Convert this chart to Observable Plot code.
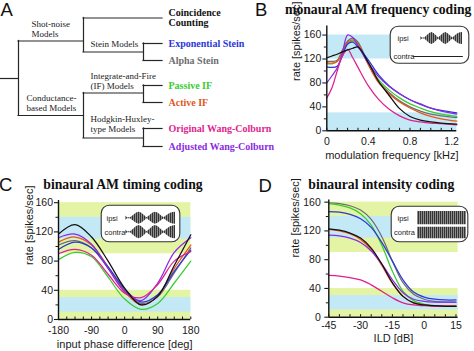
<!DOCTYPE html>
<html><head><meta charset="utf-8">
<script src="https://cdn.jsdelivr.net/npm/d3@7"></script>
<script src="https://cdn.jsdelivr.net/npm/@observablehq/plot@0.6"></script>
<style>
html,body{margin:0;padding:0;background:#fff}
#fig{position:relative;width:474px;height:351px;overflow:hidden;background:#fff}
#fig svg{position:absolute;overflow:visible;background:transparent}
.lab{position:absolute;white-space:nowrap;line-height:1;color:#111}
.letter{font:18.5px "Liberation Sans",Arial,sans-serif}
.ttl{font:bold 13.7px "Liberation Serif","Times New Roman",serif}
</style></head><body><div id="fig"></div>
<script>
// ---------- series ----------
const seriesNames = ["Coincidence Counting","Exponential Stein","Alpha Stein","Passive IF","Active IF","Original Wang-Colburn","Adjusted Wang-Colburn"];
const seriesColors = ["#111111","#2b38d9","#6e6e6e","#38cc30","#e5561d","#e01f8e","#8a2be2"];
const drawOrder = [2,3,4,1,6,5,0];

// ---------- panel A tree ----------
const treeIds     = ["root","shot","cond","cc","stein","es","as","if","pif","aif","hh","owc","awc"];
const treeParents = [null,"root","root","shot","shot","stein","stein","cond","if","if","cond","hh","hh"];
const treeX       = [18, 83, 83, 162, 143, 162, 162, 143, 162, 162, 143, 162, 162];
const treeY       = [78, 40.5, 115, 17.5, 51.5, 43, 60, 92.5, 85, 102, 137.5, 128, 146];
const treeStemX   = 0;
const groupLabels = ["Shot-noise\nModels","Stein Models","Integrate-and-Fire\n(IF) Models","Conductance-\nbased Models","Hodgkin-Huxley-\ntype Models"];
const groupLabelX = [31, 90, 90, 26, 90];
const groupLabelY = [36, 46.5, 88, 110.5, 131];
const leafIds     = ["cc","es","as","pif","aif","owc","awc"];
const leafLabels  = ["Coincidence\nCounting","Exponential Stein","Alpha Stein","Passive IF","Active IF","Original Wang-Colburn","Adjusted Wang-Colburn"];

// ---------- panel B: monaural AM frequency coding ----------
const bFreq = [0,0.05,0.1,0.15,0.2,0.25,0.3,0.4,0.5,0.6,0.7,0.8,0.9,1.0,1.1,1.25];
const bRates = [
  [122,125,128,132,135,138,140,114,82,59,37,24,18,15,13,11],
  [107,106,108,125,145,148,140,118,93,75,62,52,44,38,34,30],
  [116,116,118,135,150,155,148,112,82,64,50,40,33,28,25,22],
  [112,112,116,130,145,150,143,112,85,68,55,45,38,32,28,24],
  [114,113,116,132,148,152,145,110,80,62,48,38,30,24,20,16],
  [55,72,100,125,136,122,106,75,52,36,25,18,15,13,12,10],
  [80,92,105,130,160,156,142,113,90,74,62,52,45,38,33,28]
];
const bXTicks = [0,0.4,0.8,1.2];
const bXMinor = [0,0.1,0.2,0.3,0.4,0.5,0.6,0.7,0.8,0.9,1.0,1.1,1.2];
const bBandLo = [0,120], bBandHi = [30,160], bBandKind = ["blue","blue"];

// ---------- panel C: binaural AM timing coding ----------
const cPhase = [-180,-135,-90,-45,0,45,90,135,180];
const cRates = [
  [117,130,113,80,43,20,32,74,116],
  [96,106,98,72,42,24,34,66,95],
  [102,108,98,70,40,22,31,64,98],
  [82,92,86,58,28,14,22,50,80],
  [106,113,102,72,38,20,32,70,102],
  [90,96,88,62,36,30,48,80,93],
  [112,117,103,70,38,26,50,92,112]
];
const cXTicks = [-180,-90,0,90,180];
const cXMinor = [-180,-157.5,-135,-112.5,-90,-67.5,-45,-22.5,0,22.5,45,67.5,90,112.5,135,157.5,180];

// ---------- panel D: binaural intensity coding ----------
const dILD = [-45,-40,-35,-30,-25,-20,-15,-10,-5,0,5,10,15];
const dRates = [
  [123,121,117,110,96,74,48,29,20,17,16,15,15],
  [147,146,143,137,125,104,78,52,35,28,25,24,24],
  [159,158,155,149,136,112,78,48,32,25,22,21,21],
  [158,156,152,144,128,100,64,36,23,18,16,16,16],
  [122,120,116,108,94,72,47,29,20,17,16,16,16],
  [58,57,55,52,45,36,27,20,17,16,15,15,15],
  [114,113,110,104,92,74,52,34,25,22,21,21,21]
];
const dXTicks = [-45,-30,-15,0,15];
const dXMinor = [-45,-40,-35,-30,-25,-20,-15,-10,-5,0,5,10,15];
const cdBandLo = [90,110,0,10], cdBandHi = [160,140,40,30], cdBandKind = ["green","blue","green","blue"];

const yTicks = [0,40,80,120,160];
const yMinor = [20,60,100,140];
const bandColor = {blue: "#c3e9f6", green: "#e3f4a4"};

// inset stimulus envelopes (normalised)
const waveT   = [0,0.04,0.1,0.16,0.22,0.27,0.32,0.38,0.43,0.49,0.55,0.6,0.65,0.71,0.77,0.83,0.89,0.95,1.0,1.0];
const waveEnv = [0.35,0.08,0.08,0.45,0.85,1,0.85,0.45,0.08,0.45,0.85,1,0.85,0.45,0.08,0.45,0.8,0.95,1,0];
const toneT   = [0,0,1,1];
const toneEnv = [0,1,1,0];

// ---------- helpers ----------
const fig = document.getElementById("fig");
const SANS = "Liberation Sans, Arial, Helvetica, sans-serif";
const SERIF = "Liberation Serif, Times New Roman, serif";
const NS = "http://www.w3.org/2000/svg";
function place(svg, left, top) { svg.style.left = left + "px"; svg.style.top = top + "px"; fig.appendChild(svg); }
function label(cls, text, left, top) {
  const d = document.createElement("div"); d.className = "lab " + cls; d.textContent = text;
  d.style.left = left + "px"; d.style.top = top + "px"; fig.appendChild(d);
}
function el(name, attrs) {
  const e = document.createElementNS(NS, name);
  for (const k in attrs) e.setAttribute(k, attrs[k]);
  return e;
}

// ---------- Panel A ----------
{
  const pos = new Map(treeIds.map((id, i) => [id, {x: treeX[i], y: treeY[i]}]));
  const hSegs = treeIds.map((id, i) => ({x1: treeParents[i] ? pos.get(treeParents[i]).x : treeStemX, x2: treeX[i], y: treeY[i]}));
  const vSegs = [];
  for (const id of treeIds) {
    const kids = treeIds.filter((k, i) => treeParents[i] === id);
    if (!kids.length) continue;
    const ys = kids.map(k => pos.get(k).y).concat([pos.get(id).y]);
    vSegs.push({x: pos.get(id).x, y1: d3.min(ys), y2: d3.max(ys)});
  }
  const groups = groupLabels.map((t, i) => ({t, x: groupLabelX[i], y: groupLabelY[i]}));
  const leaves = leafIds.map((id, i) => ({t: leafLabels[i], x: pos.get(id).x, y: pos.get(id).y, c: seriesColors[i]}));
  const svg = Plot.plot({
    width: 280, height: 160, margin: 0,
    x: {domain: [0, 280], range: [0, 280], axis: null},
    y: {domain: [0, 160], range: [0, 160], axis: null},
    color: {type: "identity"},
    style: {fontFamily: SERIF, background: "transparent"},
    marks: [
      Plot.ruleY(hSegs, {y: "y", x1: "x1", x2: "x2", stroke: "#262626", strokeWidth: 1.2, strokeLinecap: "square"}),
      Plot.ruleX(vSegs, {x: "x", y1: "y1", y2: "y2", stroke: "#262626", strokeWidth: 1.2, strokeLinecap: "square"}),
      Plot.text(groups, {x: "x", y: "y", text: "t", textAnchor: "start", lineAnchor: "bottom", lineHeight: 1.1, fontSize: 9, fill: "#222", fontFamily: SERIF}),
      Plot.text(leaves, {x: "x", y: "y", text: "t", textAnchor: "start", lineAnchor: "middle", fontSize: 10, fontWeight: "bold", fill: d => d.c, dx: 6, fontFamily: SERIF})
    ]
  });
  place(svg, 0, 0);
}

// ---------- chart panel builder ----------
function chart(o) {
  const fh = o.height - o.mt - o.mb;
  const bands = o.bandLo.map((lo, i) => ({lo, hi: o.bandHi[i], x1: o.xDomain[0], x2: o.xDomain[1], fill: bandColor[o.bandKind[i]]}));
  const rows = [];
  for (const s of drawOrder) o.xs.forEach((x, j) => rows.push({s, x, y: o.rates[s][j], c: seriesColors[s]}));
  const svg = Plot.plot({
    width: o.width, height: o.height,
    marginLeft: o.ml, marginRight: o.mr, marginTop: o.mt, marginBottom: o.mb,
    x: {domain: o.xDomain, axis: null},
    y: {domain: o.yDomain, axis: null},
    color: {type: "identity"},
    style: {fontFamily: SANS, fontSize: "10.5px", color: "#1a1a1a", background: "transparent"},
    marks: [
      Plot.rect(bands, {x1: "x1", x2: "x2", y1: "lo", y2: "hi", fill: "fill"}),
      Plot.line(rows, {x: "x", y: "y", z: "s", stroke: "c", strokeWidth: 1.25, curve: "catmull-rom"}),
      Plot.tickX(o.xMinor, {x: d => d, insetTop: fh - 2.5, stroke: "#111", strokeWidth: 1}),
      Plot.ruleY([o.yDomain[0]], {stroke: "#111", strokeWidth: 1.4}),
      Plot.ruleX([o.xDomain[0]], {stroke: "#111", strokeWidth: 1.4}),
      Plot.axisX({ticks: o.xTicks, tickSize: 0, tickPadding: o.xPad, tickFormat: d => String(d), label: null}),
      Plot.axisY({ticks: yTicks, tickSize: 4, tickPadding: o.yPad, label: null, strokeWidth: 1.1}),
      Plot.axisY({ticks: yMinor, tickSize: 2.5, tickFormat: () => "", label: null, strokeWidth: 1}),
      Plot.text([o.xLabel], {text: d => d, frameAnchor: "bottom", lineAnchor: "bottom", dy: o.xLabelDy, fontSize: 11, fill: "#1a1a1a"}),
      Plot.text(["rate [spikes/sec]"], {text: d => d, frameAnchor: "left", rotate: -90, dx: o.yLabelDx, dy: o.yLabelDy, fontSize: 11, fill: "#1a1a1a"})
    ]
  });
  place(svg, o.left, o.top);
}

function insetBox(o) {
  const rowsData = [];
  o.rows.forEach((r, k) => r.t.forEach((t, j) => rowsData.push({k, t, lo: r.y - r.env[j] * r.amp, hi: r.y + r.env[j] * r.amp})));
  const marks = [
    Plot.frame({rx: 8, inset: 0.7, stroke: "#333", strokeWidth: 1.1, fill: "white"}),
    Plot.areaY(rowsData, {x: "t", y1: "lo", y2: "hi", z: "k", fill: "#5a5a5a", curve: "linear"})
  ];
  if (o.flat) marks.push(Plot.ruleY([o.flat.y], {x1: o.flat.x1, x2: o.flat.x2, stroke: "#222", strokeWidth: 1.1}));
  o.labels.forEach(l => marks.push(Plot.text([l.text], {text: d => d, frameAnchor: "left", y: [l.y], dx: l.dx, textAnchor: "start", fontSize: 7.5, fontFamily: SANS, fill: "#222"})));
  const svg = Plot.plot({
    width: o.width, height: o.height, margin: 0,
    x: {domain: [0, 1], range: o.xRange, axis: null},
    y: {domain: [0, 1], range: o.yRange, axis: null},
    style: {background: "transparent"},
    marks
  });
  // carrier texture: fine vertical stripes filling the stimulus envelopes
  const defs = el("defs", {});
  const pat = el("pattern", {id: o.id, patternUnits: "userSpaceOnUse", x: 0, y: 0, width: 2, height: 4});
  pat.appendChild(el("rect", {x: 0, y: 0, width: 2, height: 4, fill: "#8c8c8c"}));
  pat.appendChild(el("rect", {x: 0, y: 0, width: 1, height: 4, fill: "#333333"}));
  defs.appendChild(pat);
  svg.appendChild(defs);
  const areaG = svg.querySelector('g[aria-label="area"]');
  if (areaG) {
    areaG.setAttribute("fill", `url(#${o.id})`);
    areaG.querySelectorAll("path").forEach(p => p.setAttribute("fill", `url(#${o.id})`));
  }
  place(svg, o.left, o.top);
}

// ---------- Panel B ----------
chart({left: 284, top: 18, width: 190, height: 150, ml: 42.3, mr: 17.7, mt: 7.6, mb: 37.7,
  xDomain: [0, 1.25], yDomain: [0, 175], xs: bFreq, rates: bRates,
  bandLo: bBandLo, bandHi: bBandHi, bandKind: bBandKind,
  xTicks: bXTicks, xMinor: bXMinor, xPad: 6.5, yPad: 1.5,
  xLabel: "modulation frequency [kHz]", xLabelDy: 28, yLabelDx: -30.5, yLabelDy: 2.5});
insetBox({id: "carrierB", left: 389, top: 24.5, width: 80, height: 38.5, xRange: [31, 73], yRange: [31, 13],
  rows: [{y: 1, t: waveT, env: waveEnv, amp: 0.33}],
  flat: {y: 0, x1: -0.17, x2: 1.02},
  labels: [{text: "ipsi", y: 1, dx: 8}, {text: "contra", y: 0, dx: 4}]});

// ---------- Panel C ----------
chart({left: 0, top: 192, width: 240, height: 159, ml: 58, mr: 49.7, mt: 8, mb: 32,
  xDomain: [-180, 180], yDomain: [0, 163], xs: cPhase, rates: cRates,
  bandLo: cdBandLo, bandHi: cdBandHi, bandKind: cdBandKind,
  xTicks: cXTicks, xMinor: cXMinor, xPad: 7, yPad: 1.5,
  xLabel: "input phase difference [deg]", xLabelDy: 28.5, yLabelDx: -29.5, yLabelDy: 5});
insetBox({id: "carrierC", left: 100, top: 204, width: 80, height: 38, xRange: [25, 75], yRange: [27.7, 13.7],
  rows: [{y: 1, t: waveT, env: waveEnv, amp: 0.43}, {y: 0, t: waveT, env: waveEnv, amp: 0.47}],
  labels: [{text: "ipsi", y: 1, dx: 6}, {text: "contra", y: 0, dx: 4}]});

// ---------- Panel D ----------
chart({left: 284, top: 192, width: 190, height: 159, ml: 44.3, mr: 16.4, mt: 7.5, mb: 34.3,
  xDomain: [-45, 16], yDomain: [0, 163], xs: dILD, rates: dRates,
  bandLo: cdBandLo, bandHi: cdBandHi, bandKind: cdBandKind,
  xTicks: dXTicks, xMinor: dXMinor, xPad: 4, yPad: 4,
  xLabel: "ILD [dB]", xLabelDy: 24.5, yLabelDx: -33, yLabelDy: -1});
insetBox({id: "carrierD", left: 390, top: 205, width: 78, height: 37, xRange: [27, 76], yRange: [27.5, 12.7],
  rows: [{y: 1, t: toneT, env: toneEnv, amp: 0.45}, {y: 0, t: toneT, env: toneEnv, amp: 0.39}],
  labels: [{text: "ipsi", y: 1, dx: 7}, {text: "contra", y: 0, dx: 3.5}]});

// ---------- titles and panel letters ----------
label("letter", "A", 0.5, -0.7);
label("letter", "B", 255, -0.7);
label("letter", "C", -1, 174.3);
label("letter", "D", 258.5, 175.3);
label("ttl", "monaural AM frequency coding", 285, 1.5);
label("ttl", "binaural AM timing coding", 43.3, 176.5);
label("ttl", "binaural intensity coding", 308.3, 176.8);
</script></body></html>
